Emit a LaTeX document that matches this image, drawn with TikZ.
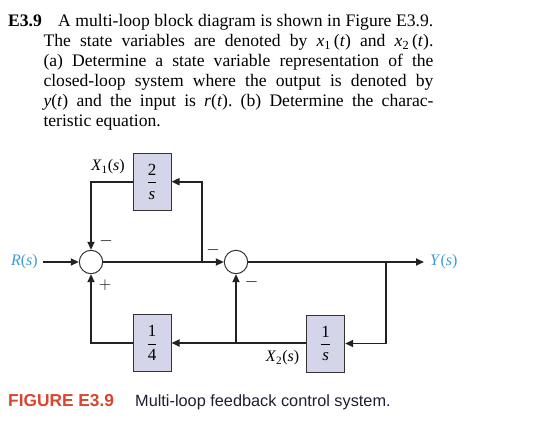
\documentclass[tikz,border=0pt]{standalone}
\usepackage{amsmath}
\usepackage{fontspec}
\setmainfont{Liberation Serif}
\newfontfamily\capfont{Liberation Sans}
\usetikzlibrary{arrows.meta}
\definecolor{blockfill}{HTML}{D5D5EA}
\definecolor{lblblue}{HTML}{3C9AD6}
\definecolor{capred}{HTML}{D9452F}
\definecolor{captext}{HTML}{1E1E32}
\definecolor{wire}{HTML}{222222}
\newcommand{\xv}[1]{\textit{x}\textsubscript{#1}\,(\textit{t})}
\newcommand{\bfr}[2]{$\dfrac{\text{#1}}{\text{#2}}$}
\frenchspacing
\begin{document}
\begin{tikzpicture}[x=1pt,y=-1pt,
  sig/.style={line width=1.8pt, draw=wire},
  arr/.style={sig, -{Triangle[length=8pt,width=7pt]}},
  blk/.style={draw=black!80, line width=1pt, fill=blockfill, minimum width=38pt,
              minimum height=57pt, inner sep=0pt, font=\fontsize{17}{19}\selectfont},
  sumc/.style={circle, draw=black!80, line width=1pt, fill=white, minimum size=23.4pt, inner sep=0pt},
  lbl/.style={font=\fontsize{16}{18}\selectfont, inner sep=0pt},
  sgn/.style={font=\fontsize{16}{18}\selectfont, inner sep=0pt},
  ttl/.style={font=\fontsize{17.6}{20}\selectfont, inner sep=0pt, anchor=base west},
  captxt/.style={font=\capfont\fontsize{16.3}{18}\selectfont, inner sep=0pt, anchor=base west}]
\useasboundingbox (0,0) rectangle (548,422);
% title
\node[ttl] (t0) at (8,26.7) {\textbf{E3.9}};
\node[ttl] (t1) at (58,26.7) {\makebox[375pt][s]{A multi-loop block diagram is shown in Figure E3.9.}};
\node[ttl] (t2) at (43.3,46.7) {\makebox[390pt][s]{The state variables are denoted by \xv{1} and \xv{2}.}};
\node[ttl] (t3) at (43.3,66.7) {\makebox[390pt][s]{(a) Determine a state variable representation of the}};
\node[ttl] (t4) at (43.3,86.7) {\makebox[390pt][s]{closed-loop system where the output is denoted by}};
\node[ttl] (t5) at (43.3,106.7) {\makebox[390pt][s]{\textit{y}(\textit{t}) and the input is \textit{r}(\textit{t}). (b) Determine the charac-}};
\node[ttl] (t6) at (43.3,126.7) {teristic equation.};
% diagram
\node[sumc] (s1) at (91,262) {};
\node[sumc] (s2) at (236,262) {};
\node[blk] (b1) at (152,181.7) {\bfr{2}{\textit{s}}};
\node[blk] (b2) at (152,343) {\bfr{1}{4}};
\node[blk] (b3) at (325.7,343.5) {\bfr{1}{\textit{s}}};
\coordinate (rin) at (42.7,262);
\coordinate (yout) at (424,262);
\coordinate (j1) at (201.7,262);
\coordinate (j2) at (385.7,262);
\coordinate (j3) at (236,343);
\node[lbl, text=lblblue, anchor=east] (R) at (38,262) {\textit{R}(\textit{s})};
\node[lbl, text=lblblue, anchor=west] (Y) at (430,262) {\textit{Y}(\textit{s})};
\node[lbl] (x1) at (108,166.7) {\textit{X}\textsubscript{1}(\textit{s})};
\node[lbl] (x2) at (282.5,358) {\textit{X}\textsubscript{2}(\textit{s})};
\draw[arr] (rin) -- (s1);
\draw[arr] (s1) -- (s2);
\draw[arr] (s2) -- (yout);
\draw[arr] (j1) |- (b1);
\draw[arr] (b1) -| (s1);
\draw[arr] (j2) |- (b3.east);
\draw[arr] (b3.west |- j3) -- (b2.east |- j3);
\draw[arr] (j3) -- (s2);
\draw[arr] (b2) -| (s1);
% signs
\node[sgn] (m1) at (106,240.7) {$-$};
\node[sgn] (p1) at (105,285) {$+$};
\node[sgn] (m2) at (213,250) {$-$};
\node[sgn] (m3) at (251.7,281.7) {$-$};
% caption
\node[captxt, text=capred, font=\capfont\fontsize{17.3}{18}\selectfont\bfseries] (c1) at (8,406.7) {FIGURE E3.9};
\node[captxt, text=captext] (c2) at (135,406.7) {Multi-loop feedback control system.};
\end{tikzpicture}
\end{document}
